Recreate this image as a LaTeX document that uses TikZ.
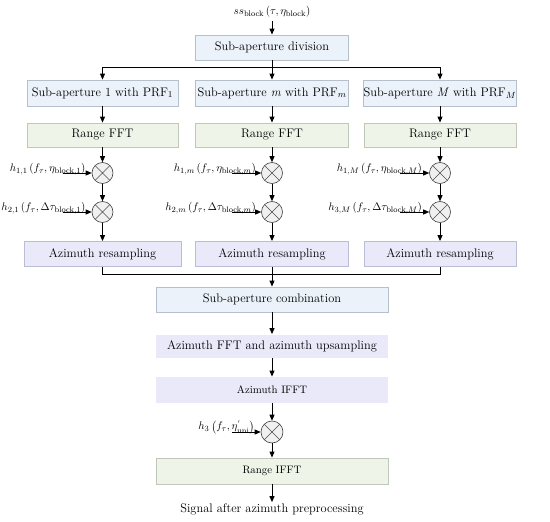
\documentclass[tikz,border=0pt]{standalone}
\usepackage{amsmath}
\usetikzlibrary{arrows.meta,calc}
\definecolor{bfill}{RGB}{235,242,250}
\definecolor{bline}{RGB}{182,192,204}
\definecolor{gfill}{RGB}{238,245,232}
\definecolor{gline}{RGB}{192,200,188}
\definecolor{lfill}{RGB}{233,233,250}
\definecolor{lline}{RGB}{188,188,212}
\definecolor{cfill}{RGB}{240,240,240}
\newcommand{\boxfnt}{\fontsize{12.4}{14}\selectfont}
\newcommand{\smallboxfnt}{\fontsize{10.8}{13}\selectfont}
\newcommand{\labfnt}{\fontsize{11}{13}\selectfont}
\begin{document}
\begin{tikzpicture}[x=1pt,y=-1pt,
  basebox/.style={line width=0.8pt,minimum height=25pt,inner sep=0pt,font=\boxfnt},
  bluebox/.style={basebox,draw=bline,fill=bfill},
  greenbox/.style={basebox,draw=gline,fill=gfill},
  lavbox/.style={basebox,draw=lline,fill=lfill},
  lavplain/.style={basebox,draw=none,fill=lfill},
  mult/.style={circle,draw=black!75,fill=cfill,minimum size=21pt,inner sep=0pt,line width=0.6pt,
    path picture={\draw[black!70,line width=0.5pt]
      (path picture bounding box.north west) -- (path picture bounding box.south east)
      (path picture bounding box.north east) -- (path picture bounding box.south west);}},
  lab/.style={inner sep=0pt,font=\labfnt,anchor=south east},
  conn/.style={line width=0.9pt,black},
  arr/.style={conn,-{Triangle[length=6pt,width=5pt]}}]
\useasboundingbox (0,0) rectangle (550,522);

% top
\node[font=\labfnt] (in) at (272,12) {$ss_{\mathrm{block}}\left(\tau,\eta_{\mathrm{block}}\right)$};
\node[bluebox,minimum width=153pt] (div) at (272,47.5) {Sub-aperture division};
\draw[arr] (in) -- (div);

% sub-aperture row
\node[bluebox,minimum width=151pt,minimum height=26pt] (s1) at (102.5,93) {Sub-aperture 1 with PRF$_{1}$};
\node[bluebox,minimum width=153pt,minimum height=26pt] (sm) at (272,93) {Sub-aperture \textit{m} with PRF$_{m}$};
\node[bluebox,minimum width=152pt,minimum height=26pt] (sM) at (440,93) {Sub-aperture \textit{M} with PRF$_{M}$};
\coordinate (bj) at (272,67);
\draw[conn] (div) -- (bj);
\draw[arr] (bj) -| (s1);
\draw[arr] (bj) -| (sM);
\draw[arr] (bj) -- (sm);

% range FFT
\node[greenbox,minimum width=151pt,minimum height=24pt] (f1) at (102.5,135) {Range FFT};
\node[greenbox,minimum width=153pt,minimum height=24pt] (fm) at (272,135) {Range FFT};
\node[greenbox,minimum width=152pt,minimum height=24pt] (fM) at (440,135) {Range FFT};
\draw[arr] (s1) -- (f1);
\draw[arr] (sm) -- (fm);
\draw[arr] (sM) -- (fM);

% multipliers
\foreach \c/\x in {1/102.5,m/272,M/440}{
  \node[mult] (c1\c) at (\x,173) {};
  \node[mult] (c2\c) at (\x,212) {};
}
\draw[arr] (f1) -- (c11);
\draw[arr] (fm) -- (c1m);
\draw[arr] (fM) -- (c1M);
\draw[arr] (c11) -- (c21);
\draw[arr] (c1m) -- (c2m);
\draw[arr] (c1M) -- (c2M);

% labels and inputs
\node[lab] (l11) at ($(c11.west)+(-6,2)$) {$h_{1,1}\left(f_\tau,\eta_{\mathrm{block},1}\right)$};
\node[lab] (l21) at ($(c21.west)+(-6,2)$) {$h_{2,1}\left(f_\tau,\Delta\tau_{\mathrm{block},1}\right)$};
\node[lab] (l1m) at ($(c1m.west)+(-5,2)$) {$h_{1,m}\left(f_\tau,\eta_{\mathrm{block},m}\right)$};
\node[lab] (l2m) at ($(c2m.west)+(-5,2)$) {$h_{2,m}\left(f_\tau,\Delta\tau_{\mathrm{block},m}\right)$};
\node[lab] (l1M) at ($(c1M.west)+(-7,2)$) {$h_{1,M}\left(f_\tau,\eta_{\mathrm{block},M}\right)$};
\node[lab] (l2M) at ($(c2M.west)+(-7,2)$) {$h_{3,M}\left(f_\tau,\Delta\tau_{\mathrm{block},M}\right)$};
\foreach \n in {11,21,1m,2m,1M,2M}{
  \coordinate (i\n) at ($(c\n.west)+(-29,0)$);
  \draw[arr] (i\n) -- (c\n);
}

% azimuth resampling
\node[lavbox,minimum width=157pt] (a1) at (102.5,254) {Azimuth resampling};
\node[lavbox,minimum width=153pt] (am) at (272,254) {Azimuth resampling};
\node[lavbox,minimum width=152pt] (aM) at (440,254) {Azimuth resampling};
\draw[arr] (c21) -- (a1);
\draw[arr] (c2m) -- (am);
\draw[arr] (c2M) -- (aM);

% combination
\node[bluebox,minimum width=232pt] (comb) at (272,299.5) {Sub-aperture combination};
\coordinate (mj) at (272,274);
\draw[conn] (a1) |- (mj);
\draw[conn] (aM) |- (mj);
\draw[conn] (am) -- (mj);
\draw[arr] (mj) -- (comb);

% lower chain
\node[lavplain,minimum width=232pt,minimum height=23pt] (azfft) at (272,346) {Azimuth FFT and azimuth upsampling};
\node[lavplain,minimum width=232pt,minimum height=26pt,font=\smallboxfnt] (azifft) at (272,390) {Azimuth IFFT};
\node[mult,minimum size=22pt] (c3) at (272,432) {};
\node[greenbox,minimum width=232pt,minimum height=26pt,font=\smallboxfnt] (rifft) at (272,471) {Range IFFT};
\node[font=\boxfnt,inner sep=1pt] (out) at (272,509) {Signal after azimuth preprocessing};
\draw[arr] (comb) -- (azfft);
\draw[arr] (azfft) -- (azifft);
\draw[arr] (azifft) -- (c3);
\draw[arr] (c3) -- (rifft);
\draw[arr] (rifft) -- (out);
\node[lab] (l3) at ($(c3.west)+(-6,2)$) {$h_{3}\left(f_\tau,\eta_{\mathrm{uni}}^{'}\right)$};
\coordinate (i3) at ($(c3.west)+(-29,0)$);
\draw[arr] (i3) -- (c3);
\end{tikzpicture}
\end{document}
